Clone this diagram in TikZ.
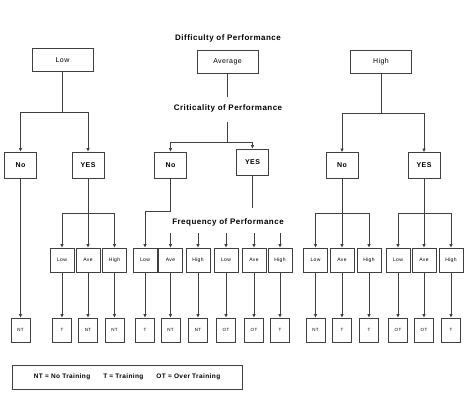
\documentclass[tikz,border=0pt]{standalone}
\usepackage{fontspec}
\setmainfont{Liberation Sans}[LetterSpace=6]
\usetikzlibrary{arrows.meta}

\begin{document}
\begin{tikzpicture}[
    x=1pt, y=-1pt, % pixel units, y grows downwards
    >={Latex[length=3.5pt, width=3.5pt]},
    % Style definitions
    link/.style={draw=black!75, line width=0.8pt},
    title text/.style={font=\fontsize{8}{9}\selectfont\bfseries},
    top box/.style={draw=black!75, line width=0.8pt, rectangle, minimum width=61pt, minimum height=23pt, font=\fontsize{7}{8}\selectfont},
    choice box/.style={draw=black!75, line width=0.8pt, rectangle, minimum width=32pt, minimum height=26pt, font=\fontsize{7}{8}\selectfont\bfseries},
    freq box/.style={draw=black!75, line width=0.8pt, rectangle, minimum width=24pt, minimum height=24pt, inner sep=1pt, font=\fontsize{5}{6}\selectfont},
    result box/.style={draw=black!75, line width=0.8pt, rectangle, minimum width=19pt, minimum height=24pt, inner sep=1pt, font=\fontsize{4.5}{5}\selectfont},
    legend box/.style={draw=black!75, line width=0.8pt, rectangle, minimum width=230pt, minimum height=24pt, font=\fontsize{6.5}{7}\selectfont\bfseries}
]
\useasboundingbox (0,0) rectangle (474,417);

% ==========================================
% 1. DIFFICULTY (Top Row)
% ==========================================

\node[title text] (diffT) at (228,38) {Difficulty of Performance};

\node[top box] (lowD) at (62.5,60) {Low};
\node[top box] (avgD) at (227.5,62) {Average};
\node[top box] (highD) at (381,62) {High};

% ==========================================
% 2. CRITICALITY (Yes / No)
% ==========================================

\node[title text] (critT) at (228,108) {Criticality of Performance};

\node[choice box] (lowNo) at (20.5,165) {No};
\node[choice box] (lowYes) at (88,165) {YES};
\node[choice box] (avgNo) at (170.5,165) {No};
\node[choice box] (avgYes) at (252.5,162) {YES};
\node[choice box] (highNo) at (342,165.5) {No};
\node[choice box] (highYes) at (424,165.5) {YES};

% ==========================================
% 3. FREQUENCY (Low / Ave / High)
% ==========================================

\node[title text] (freqT) at (228,222) {Frequency of Performance};

% Low difficulty, yes
\node[freq box] (lyLow) at (62,260) {Low};
\node[freq box] (lyAve) at (88,260) {Ave};
\node[freq box] (lyHigh) at (114.5,260) {High};
% Average difficulty, no
\node[freq box] (anLow) at (145,260) {Low};
\node[freq box] (anAve) at (170.5,260) {Ave};
\node[freq box] (anHigh) at (198,260) {High};
% Average difficulty, yes
\node[freq box] (ayLow) at (226,260) {Low};
\node[freq box] (ayAve) at (254,260) {Ave};
\node[freq box] (ayHigh) at (280,260) {High};
% High difficulty, no
\node[freq box] (hnLow) at (315.5,260) {Low};
\node[freq box] (hnAve) at (342,260) {Ave};
\node[freq box] (hnHigh) at (369,260) {High};
% High difficulty, yes
\node[freq box] (hyLow) at (398,260) {Low};
\node[freq box] (hyAve) at (424,260) {Ave};
\node[freq box] (hyHigh) at (451,260) {High};

% ==========================================
% 4. RESULTS (Bottom Row)
% ==========================================

\node[result box] (r1) at (20.5,330) {NT};
\node[result box] (r2) at (62,330) {T};
\node[result box] (r3) at (88,330) {NT};
\node[result box] (r4) at (114.5,330) {NT};
\node[result box] (r5) at (145,330) {T};
\node[result box] (r6) at (170.5,330) {NT};
\node[result box] (r7) at (198,330) {NT};
\node[result box] (r8) at (226,330) {OT};
\node[result box] (r9) at (254,330) {OT};
\node[result box] (r10) at (280,330) {T};
\node[result box] (r11) at (315.5,330) {NT};
\node[result box] (r12) at (342,330) {T};
\node[result box] (r13) at (369,330) {T};
\node[result box] (r14) at (398,330) {OT};
\node[result box] (r15) at (424,330) {OT};
\node[result box] (r16) at (451,330) {T};

% Legend
\node[legend box] (legend) at (127,377) {NT = No Training\hspace{13pt}T = Training\hspace{13pt}OT = Over Training};

% ==========================================
% 5. CONNECTORS
% ==========================================

% Difficulty -> Criticality
\coordinate (lowSplit) at (62.5,112);
\draw[link] (lowD) -- (lowSplit);
\draw[link, ->] (lowSplit) -| (lowNo);
\draw[link, ->] (lowSplit) -| (lowYes);

\coordinate (critTop) at (227.5,97);
\coordinate (critBot) at (227.5,122);
\coordinate (avgSplit) at (227.5,142);
\draw[link] (avgD) -- (critTop);
\draw[link] (critBot) -- (avgSplit);
\draw[link, ->] (avgSplit) -| (avgNo);
\draw[link, ->] (avgSplit) -| (avgYes);

\coordinate (highSplit) at (381,113);
\draw[link] (highD) -- (highSplit);
\draw[link, ->] (highSplit) -| (highNo);
\draw[link, ->] (highSplit) -| (highYes);

% Criticality -> Frequency
\draw[link, ->] (lowNo) -- (r1);

\coordinate (lySplit) at (88,213);
\draw[link, ->] (lowYes) -- (lyAve);
\draw[link, ->] (lySplit) -| (lyLow);
\draw[link, ->] (lySplit) -| (lyHigh);

\coordinate (anBend) at (170.5,211);
\draw[link, ->] (avgNo) -- (anBend) -| (anLow);

\coordinate (ayEnd) at (252.5,208);
\draw[link] (avgYes) -- (ayEnd);

% short arrows under the frequency title
\coordinate (freqLine) at (0,233);
\foreach \b in {anAve, anHigh, ayLow, ayAve, ayHigh}
    \draw[link, ->] (\b |- freqLine) -- (\b);

\coordinate (hnSplit) at (342,213);
\draw[link, ->] (highNo) -- (hnAve);
\draw[link, ->] (hnSplit) -| (hnLow);
\draw[link, ->] (hnSplit) -| (hnHigh);

\coordinate (hySplit) at (424,213);
\draw[link, ->] (highYes) -- (hyAve);
\draw[link, ->] (hySplit) -| (hyLow);
\draw[link, ->] (hySplit) -| (hyHigh);

% Frequency -> Result
\foreach \a/\b in {lyLow/r2, lyAve/r3, lyHigh/r4, anLow/r5, anAve/r6, anHigh/r7,
                   ayLow/r8, ayAve/r9, ayHigh/r10, hnLow/r11, hnAve/r12, hnHigh/r13,
                   hyLow/r14, hyAve/r15, hyHigh/r16}
    \draw[link, ->] (\a) -- (\b);

\end{tikzpicture}
\end{document}
